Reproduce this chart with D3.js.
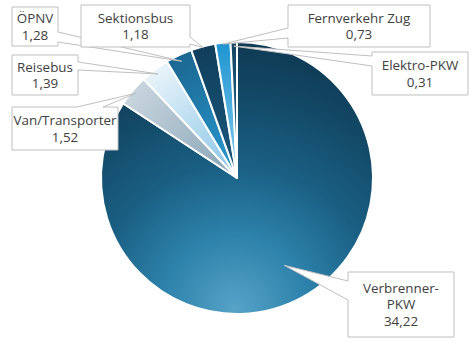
<!DOCTYPE html>
<html><head><meta charset="utf-8">
<script src="https://cdn.jsdelivr.net/npm/d3@7"></script>
<style>html,body{margin:0;padding:0;background:#fff;}svg{display:block;}</style>
</head><body>
<svg id="c" width="474" height="355"></svg>
<script>
const categories = ["Verbrenner-PKW","Van/Transporter","Reisebus","ÖPNV","Sektionsbus","Fernverkehr Zug","Elektro-PKW"];
const values = [34.22, 1.52, 1.39, 1.28, 1.18, 0.73, 0.31];
const labelLines = [["Verbrenner-","PKW"],["Van/Transporter"],["Reisebus"],["ÖPNV"],["Sektionsbus"],["Fernverkehr Zug"],["Elektro-PKW"]];
const valueLabels = ["34,22","1,52","1,39","1,28","1,18","0,73","0,31"];

const cx = 237, cy = 178, R = 136;
const svg = d3.select("#c");
const defs = svg.append("defs");

// gradients (inner colour -> outer colour), in the pie group's own coordinates
const grad = [
  null,
  ["#86a2b4","#c8d5de"],
  ["#85c3e6","#eaf4fa"],
  ["#2a9cd4","#1b6690"],
  ["#1a5a80","#103e5b"],
  ["#86cbee","#1f95d0"],
  ["#2a6f96","#124562"]
];
grad.forEach((g,i)=>{
  if(!g) return;
  const rg = defs.append("radialGradient").attr("id","g"+i)
    .attr("gradientUnits","userSpaceOnUse").attr("cx",0).attr("cy",0).attr("r",R);
  rg.append("stop").attr("offset",0).attr("stop-color",g[0]);
  rg.append("stop").attr("offset",1).attr("stop-color",g[1]);
});
const mg = defs.append("radialGradient").attr("id","g0")
  .attr("gradientUnits","userSpaceOnUse").attr("cx",-2).attr("cy",130).attr("r",260);
[[0,"#56a2c7"],[0.28,"#2d82ab"],[0.55,"#1a5f83"],[0.8,"#134a68"],[1,"#0f3b55"]].forEach(s=>
  mg.append("stop").attr("offset",s[0]).attr("stop-color",s[1]));

const pie = d3.pie().sort(null).value(d=>d).startAngle(0).endAngle(2*Math.PI);
const arcs = pie(values);
const arc = d3.arc().innerRadius(0).outerRadius(R);
const g = svg.append("g").attr("transform",`translate(${cx},${cy})`);
g.selectAll("path").data(arcs).join("path")
  .attr("d",arc)
  .attr("fill",(d,i)=>`url(#g${i})`)
  .attr("stroke","#fff").attr("stroke-width",2).attr("stroke-linejoin","round");

// callout layout: box, wedge side and base, tip radius factor
const callouts = [
  {i:3, box:[12,7,58,46], side:"right", base:[32,42], rf:0.95},
  {i:4, box:[81,5,190,47], side:"right", base:[37,44], rf:0.99},
  {i:2, box:[12,55,78,95], side:"right", base:[62,70], rf:0.96},
  {i:1, box:[12,107,118,150], side:"top", base:[77,103], rf:0.97},
  {i:5, box:[288,5,430,47], side:"left", base:[28,38], rf:0.99},
  {i:6, box:[372,52,468,95], side:"left", base:[56,66], rf:0.97},
  {i:0, box:[348,272,454,337], side:"left", base:[281,300], rf:0.73}
];

function tipOf(i, rf){
  const a = (arcs[i].startAngle + arcs[i].endAngle)/2;
  const r = R*rf;
  return [cx + r*Math.sin(a), cy - r*Math.cos(a)];
}

const lh = 16.6;
callouts.forEach(c=>{
  const [x0,y0,x1,y1] = c.box;
  const [tx,ty] = tipOf(c.i, c.rf);
  const [b1,b2] = c.base;
  let p;
  if(c.side==="right"){
    p = `M${x0},${y0}L${x1},${y0}L${x1},${b1}L${tx},${ty}L${x1},${b2}L${x1},${y1}L${x0},${y1}Z`;
  } else if(c.side==="left"){
    p = `M${x0},${y0}L${x1},${y0}L${x1},${y1}L${x0},${y1}L${x0},${b2}L${tx},${ty}L${x0},${b1}Z`;
  } else {
    p = `M${x0},${y0}L${b1},${y0}L${tx},${ty}L${b2},${y0}L${x1},${y0}L${x1},${y1}L${x0},${y1}Z`;
  }
  svg.append("path").attr("d",p).attr("fill","#fff")
    .attr("stroke","#bfbfbf").attr("stroke-width",1);
  const lines = labelLines[c.i].concat([valueLabels[c.i]]);
  const mx = (x0+x1)/2, my = (y0+y1)/2;
  const first = my + 4.8 - (lines.length-1)*lh/2;
  const t = svg.append("text").attr("text-anchor","middle")
    .attr("font-family","'Open Sans', 'Noto Sans', sans-serif").attr("font-size",13.4)
    .attr("fill","#404040");
  lines.forEach((s,k)=> t.append("tspan").attr("x",mx).attr("y",first+k*lh).text(s));
});
</script>
</body></html>
